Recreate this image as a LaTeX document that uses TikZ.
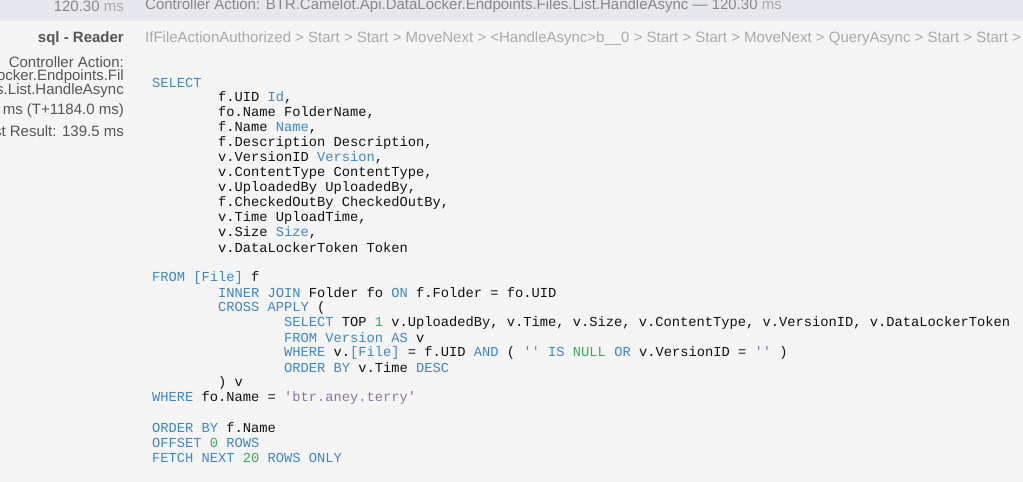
\documentclass[tikz,border=0pt]{standalone}
\usepackage{fontspec}
\setmainfont{Liberation Sans}
\setmonofont{Liberation Mono}
\definecolor{bgc}{HTML}{F5F5F5}
\definecolor{hdr}{HTML}{E6E8EE}
\definecolor{kw}{HTML}{3F86C6}
\definecolor{nm}{HTML}{2F8BCC}
\definecolor{num}{HTML}{3AA857}
\definecolor{str}{HTML}{8C74A9}
\definecolor{crumb}{HTML}{AAAAAA}
\definecolor{txt}{HTML}{555555}
\definecolor{cd}{HTML}{111111}
\newcommand{\K}[1]{\textcolor{kw}{#1}}
\newcommand{\N}[1]{\textcolor{num}{#1}}
\newcommand{\Sx}[1]{\textcolor{str}{#1}}
\begin{document}
\begin{tikzpicture}[x=1pt,y=-1pt,
  code/.style={anchor=west,inner sep=0pt,font=\fontsize{13.75}{15}\ttfamily,text=cd},
  side/.style={anchor=east,inner sep=0pt,font=\fontsize{15}{17}\selectfont,text=txt}]
\useasboundingbox (0,0) rectangle (1023,482);
\fill[bgc] (0,0) rectangle (1023,482);
\fill[hdr] (0,0) rectangle (1023,21);
\node[side,text=crumb!80!black] (hms) at (124,6) {120.30 \textcolor{crumb}{ms}};
\node[side,anchor=west,text=crumb!80!black] (hca) at (145,6) {Controller Action: BTR.Camelot.Api.DataLocker.Endpoints.Files.List.HandleAsync --- 120.30 \textcolor{crumb}{ms}};
\node[side,font=\fontsize{15}{17}\bfseries] (s1) at (124,39) {sql - Reader};
\node[side] (s2) at (124,62) {Controller Action:};
\node[side] (s3) at (124,77) {ocker.Endpoints.Fil};
\node[side] (s4) at (124,91) {s.List.HandleAsync};
\node[side] (s5) at (124,111) {ms (T+1184.0 ms)};
\node[side] (s6) at (124,131) {st Result: 139.5 ms};
\node[side,anchor=west,text=crumb] (cr) at (145,39) {IfFileActionAuthorized > Start > Start > MoveNext > <HandleAsync>b\_\_0 > Start > Start > MoveNext > QueryAsync > Start > Start >};
\node[code] (l1) at (152,83) {\K{SELECT}};
\node[code] (l2) at (218,98) {f.UID \K{Id},};
\node[code] (l3) at (218,113) {fo.Name FolderName,};
\node[code] (l4) at (218,128) {f.Name \K{Name},};
\node[code] (l5) at (218,143) {f.Description Description,};
\node[code] (l6) at (218,158) {v.VersionID \K{Version},};
\node[code] (l7) at (218,173) {v.ContentType ContentType,};
\node[code] (l8) at (218,188) {v.UploadedBy UploadedBy,};
\node[code] (l9) at (218,203) {f.CheckedOutBy CheckedOutBy,};
\node[code] (l10) at (218,218) {v.Time UploadTime,};
\node[code] (l11) at (218,233) {v.Size \K{Size},};
\node[code] (l12) at (218,248) {v.DataLockerToken Token};
\node[code] (l13) at (152,278) {\K{FROM [File]} f};
\node[code] (l14) at (218,293) {\K{INNER JOIN} Folder fo \K{ON} f.Folder = fo.UID};
\node[code] (l15) at (218,308) {\K{CROSS APPLY} (};
\node[code] (l16) at (284,323) {\K{SELECT} TOP \N{1} v.UploadedBy, v.Time, v.Size, v.ContentType, v.VersionID, v.DataLockerToken};
\node[code] (l17) at (284,338) {\K{FROM Version AS} v};
\node[code] (l18) at (284,353) {\K{WHERE} v.\K{[File]} = f.UID \K{AND} ( \Sx{''} \K{IS} \N{NULL} \K{OR} v.VersionID = \Sx{''} )};
\node[code] (l19) at (284,368) {\K{ORDER BY} v.Time \K{DESC}};
\node[code] (l20) at (218,383) {) v};
\node[code] (l21) at (152,398) {\K{WHERE} fo.Name = \Sx{'btr.aney.terry'}};
\node[code] (l22) at (152,428) {\K{ORDER BY} f.Name};
\node[code] (l23) at (152,443) {\K{OFFSET} \N{0} \K{ROWS}};
\node[code] (l24) at (152,458) {\K{FETCH NEXT} \N{20} \K{ROWS ONLY}};
\end{tikzpicture}
\end{document}
